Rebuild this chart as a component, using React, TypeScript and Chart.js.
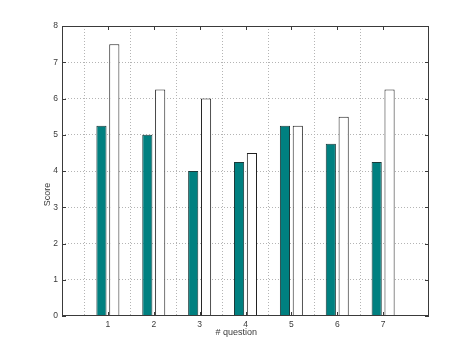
import React, { useEffect, useRef } from "react";
import { Chart, registerables } from "chart.js";

Chart.register(...registerables);

const categories = ["", "1", "2", "3", "4", "5", "6", "7", ""];
const seriesA = [null, 5.25, 5.0, 4.0, 4.25, 5.25, 4.75, 4.25, null];
const seriesB = [null, 7.5, 6.25, 6.0, 4.5, 5.25, 5.5, 6.25, null];
const yTicks = [0, 1, 2, 3, 4, 5, 6, 7, 8];
const xTitle = "# question";
const yTitle = "Score";

const FONT = "'Liberation Sans', Arial, Helvetica, sans-serif";
const AXIS = "#3a3a3a";

const boxPlugin = {
  id: "matlabBox",
  afterDraw(chart: any) {
    const { ctx, chartArea: a, scales } = chart;
    const x = scales.x;
    const y = scales.y;
    ctx.save();
    ctx.strokeStyle = AXIS;
    ctx.lineWidth = 1;
    ctx.setLineDash([]);
    ctx.strokeRect(a.left + 0.5, a.top + 0.5, a.right - a.left - 1, a.bottom - a.top - 1);
    const L = 4;
    ctx.beginPath();
    for (let i = 1; i < categories.length - 1; i++) {
      const px = Math.round(x.getPixelForValue(i)) + 0.5;
      ctx.moveTo(px, a.bottom);
      ctx.lineTo(px, a.bottom - L);
      ctx.moveTo(px, a.top);
      ctx.lineTo(px, a.top + L);
    }
    for (const v of yTicks) {
      const py = Math.round(y.getPixelForValue(v)) + 0.5;
      ctx.moveTo(a.left, py);
      ctx.lineTo(a.left + L, py);
      ctx.moveTo(a.right, py);
      ctx.lineTo(a.right - L, py);
    }
    ctx.stroke();
    // axis titles
    ctx.fillStyle = AXIS;
    ctx.font = `9px ${FONT}`;
    ctx.textAlign = "center";
    ctx.textBaseline = "middle";
    ctx.fillText(xTitle, x.getPixelForValue(3.8), a.bottom + 17);
    ctx.save();
    ctx.translate(a.left - 14, y.getPixelForValue(3.35));
    ctx.rotate(-Math.PI / 2);
    ctx.fillText(yTitle, 0, 0);
    ctx.restore();
    ctx.restore();
  },
};

export default function App() {
  const ref = useRef<HTMLCanvasElement>(null);
  useEffect(() => {
    document.body.style.margin = "0";
    const chart = new Chart(ref.current!, {
      type: "bar",
      data: {
        labels: categories,
        datasets: [
          {
            data: seriesA as any,
            backgroundColor: "#008080",
            borderColor: "#1a3a3a",
            borderWidth: 1,
            categoryPercentage: 0.56,
            barPercentage: 0.79,
          },
          {
            data: seriesB as any,
            backgroundColor: "#ffffff",
            borderColor: "#222222",
            borderWidth: 1,
            categoryPercentage: 0.56,
            barPercentage: 0.79,
          },
        ],
      },
      options: {
        animation: false,
        responsive: false,
        devicePixelRatio: 1,
        layout: { padding: { left: 0, right: 45, top: 26, bottom: 0 } },
        plugins: { legend: { display: false }, tooltip: { enabled: false } },
        scales: {
          x: {
            offset: false,
            grid: {
              drawTicks: false,
              color: (c: any) =>
                c.index === 0 || c.index === categories.length - 1 ? "rgba(0,0,0,0)" : "#b4b4b4",
            },
            border: { display: false, dash: [1, 2] },
            ticks: {
              padding: 4,
              color: AXIS,
              font: { family: FONT, size: 8.5 },
              maxRotation: 0,
              autoSkip: false,
            },
            afterFit: (s: any) => {
              s.height = 39;
            },
          },
          y: {
            min: 0,
            max: 8,
            grid: {
              drawTicks: false,
              color: (c: any) =>
                c.tick.value === 0 || c.tick.value === 8 ? "rgba(0,0,0,0)" : "#b4b4b4",
            },
            border: { display: false, dash: [1, 2] },
            ticks: {
              stepSize: 1,
              padding: 4,
              color: AXIS,
              font: { family: FONT, size: 8.5 },
            },
            afterFit: (s: any) => {
              s.width = 62;
            },
          },
        },
      },
      plugins: [boxPlugin],
    });
    return () => chart.destroy();
  }, []);
  return (
    <div style={{ position: "fixed", left: 0, top: 0, width: 474, height: 355, background: "#fff" }}>
      <canvas ref={ref} width={474} height={355} style={{ width: 474, height: 355 }} />
    </div>
  );
}
